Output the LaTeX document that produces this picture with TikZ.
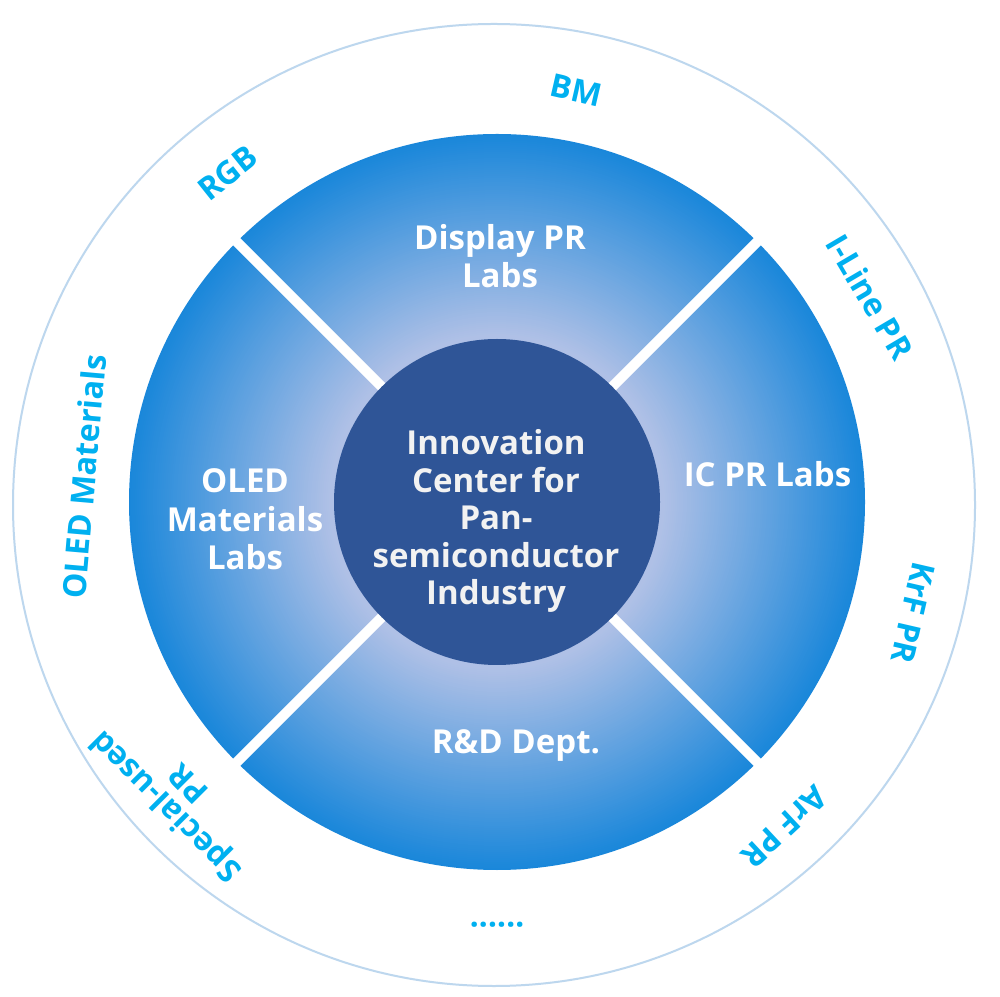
\documentclass[tikz,border=0pt]{standalone}
\usepackage{fontspec}
\setmainfont{Open Sans}
\usetikzlibrary{calc}
\definecolor{lav}{HTML}{AFC0E6}
\definecolor{secblue}{HTML}{1A87DA}
\definecolor{coreblue}{HTML}{2F5597}
\definecolor{lblblue}{HTML}{00B0F0}
\definecolor{ringcol}{HTML}{BDD7EE}
\definecolor{coretxt}{HTML}{F2F2F2}
\tikzset{
  sectlabel/.style={text=white, font=\bfseries\fontsize{33pt}{38.5pt}\selectfont, align=center, anchor=base, inner sep=0pt},
  corelabel/.style={sectlabel, text=coretxt, font=\bfseries\fontsize{33pt}{37.5pt}\selectfont},
  outlabel/.style={text=lblblue, font=\bfseries\fontsize{32pt}{32pt}\selectfont, align=center, inner sep=0pt, anchor=center},
  sectgap/.style={draw=white, line width=10pt},
  ring/.style={draw=ringcol, line width=2pt},
}
\begin{document}
\begin{tikzpicture}[x=1pt,y=1pt]
\fill[white] (0,0) rectangle (1000,996);
\useasboundingbox (0,0) rectangle (1000,996);
\coordinate (C) at (497,494);
\coordinate (O) at (494,491);
% outer ring
\draw[ring] (O) circle[radius=481];
% shaded disk: concentric rings from blue rim to lavender centre
\foreach \i in {0,...,100}{%
  \pgfmathsetmacro\rr{368-2*\i}%
  \pgfmathsetmacro\pp{100-\i}%
  \fill[secblue!\pp!lav] (C) circle[radius=\rr];
}
% gaps between the four sectors
\coordinate (g1) at ($(C)+(45:372)$);
\coordinate (g2) at ($(C)+(225:372)$);
\coordinate (g3) at ($(C)+(135:372)$);
\coordinate (g4) at ($(C)+(315:372)$);
\draw[sectgap] (g1) -- (g2);
\draw[sectgap] (g3) -- (g4);
% core
\node[circle, fill=coreblue, minimum size=326, inner sep=0pt] (core) at (C) {};
% sector labels (anchor = baseline of last line)
\node[sectlabel] (disp) at (500,708) {Display PR\\Labs};
\node[sectlabel] (ic) at (767.5,509) {IC PR Labs};
\node[sectlabel] (rnd) at (516,243) {R\&D Dept.};
\node[sectlabel] (oled) at (245,426) {OLED\\Materials\\Labs};
\node[corelabel] (coretext) at (496,391) {Innovation\\Center for\\Pan-\\semiconductor\\Industry};
% outer labels
\node[outlabel, rotate=-13] (lbm) at ($(C)+(79.05:419.6)$) {BM};
\node[outlabel, rotate=-59.5] (liline) at ($(C)+(28.8:425.8)$) {I-Line PR};
\node[outlabel, rotate=-103] (lkrf) at ($(C)+(-14.9:430.6)$) {KrF PR};
\node[outlabel, rotate=-137] (larf) at ($(C)+(-48.5:434)$) {ArF PR};
\node[outlabel, rotate=180] (ldots) at ($(C)+(-90:423)$) {......};
\node[outlabel, rotate=135] (lspecial) at ($(C)+(222.5:435.5)$) {Special-used\\PR};
\node[outlabel, rotate=85] (loled) at ($(C)+(176.5:414)$) {OLED Materials};
\node[outlabel, rotate=38.5] (lrgb) at ($(C)+(129.3:425)$) {RGB};
\end{tikzpicture}
\end{document}
